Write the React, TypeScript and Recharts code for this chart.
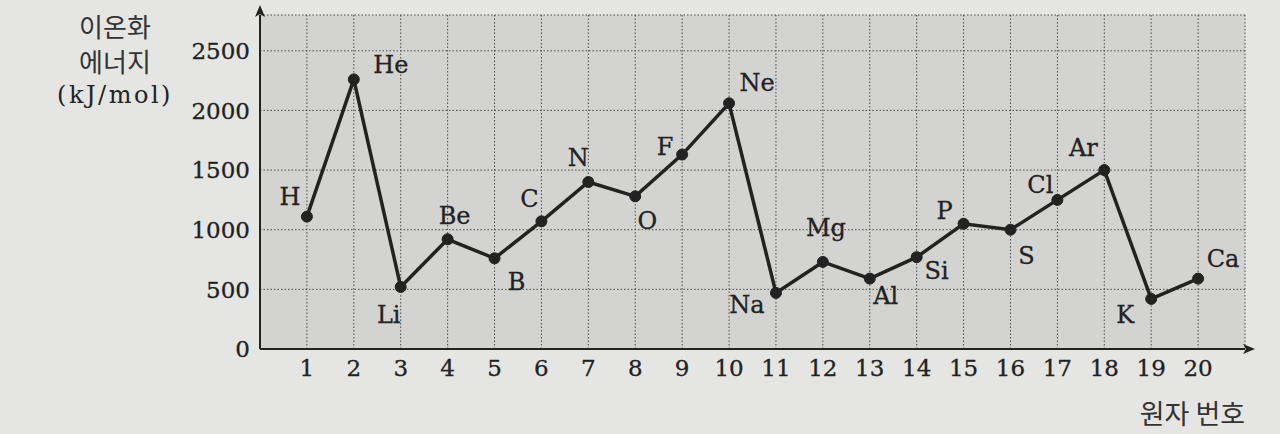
import React from "react";
import { LineChart, Line, XAxis, YAxis, CartesianGrid } from "recharts";

const atomicNumbers = [1, 2, 3, 4, 5, 6, 7, 8, 9, 10, 11, 12, 13, 14, 15, 16, 17, 18, 19, 20];
const symbols = ["H", "He", "Li", "Be", "B", "C", "N", "O", "F", "Ne", "Na", "Mg", "Al", "Si", "P", "S", "Cl", "Ar", "K", "Ca"];
const energies = [1110, 2260, 520, 920, 760, 1070, 1400, 1280, 1630, 2060, 470, 730, 590, 770, 1050, 1000, 1250, 1500, 420, 590];
const xTicks = [1, 2, 3, 4, 5, 6, 7, 8, 9, 10, 11, 12, 13, 14, 15, 16, 17, 18, 19, 20];
const yTicks = [0, 500, 1000, 1500, 2000, 2500];

// label placement relative to each point (style only)
const labelOffsets: Record<string, [number, number]> = {
  H: [-17, -20], He: [37, -14], Li: [-12, 28], Be: [7, -23], B: [22, 24],
  C: [-12, -22], N: [-10, -24], O: [12, 25], F: [-17, -8], Ne: [28, -20],
  Na: [-29, 12], Mg: [3, -34], Al: [16, 17], Si: [20, 14], P: [-19, -13],
  S: [16, 26], Cl: [-17, -15], Ar: [-21, -22], K: [-26, 16], Ca: [25, -20],
};

const data = atomicNumbers.map((n, i) => ({ n, sym: symbols[i], e: energies[i] }));

const SERIF = "'DejaVu Serif', 'Liberation Serif', serif";
const SANS = "'Noto Sans CJK KR', 'Noto Sans', sans-serif";
const INK = "#222222";

const ElementLabel = (props: any) => {
  const { x, y, index } = props;
  const sym = symbols[index];
  const [dx, dy] = labelOffsets[sym] || [0, -20];
  return (
    <text x={x + dx} y={y + dy} textAnchor="middle" dominantBaseline="central"
      fontFamily={SERIF} fontSize={24} fill={INK} stroke={INK} strokeWidth={0.3}>
      {sym}
    </text>
  );
};

export default function App() {
  return (
    <div style={{ position: "absolute", left: 0, top: 0, width: 1280, height: 434, background: "#e5e5e3", overflow: "hidden" }}>
      <svg width={0} height={0} style={{ position: "absolute" }}>
        <defs>
          <marker id="arrowHead" viewBox="0 0 12 10" refX="2" refY="5" markerWidth="12" markerHeight="10" markerUnits="userSpaceOnUse" orient="auto-start-reverse">
            <path d="M0,0 L12,5 L0,10 L3,5 Z" fill={INK} />
          </marker>
        </defs>
      </svg>
      <LineChart width={1280} height={434} data={data} margin={{ top: 15, right: 35, bottom: 45, left: 200 }}>
        <CartesianGrid stroke="#4a4a4a" strokeDasharray="1.5 2" strokeWidth={1} fill="#d3d3d1" fillOpacity={1} />
        <XAxis dataKey="n" type="number" domain={[0, 21]} ticks={xTicks} interval={0}
          tickLine={false} tickSize={0} tickMargin={11} height={40}
          axisLine={{ stroke: INK, strokeWidth: 2, markerEnd: "url(#arrowHead)" } as any}
          tick={{ fontFamily: SERIF, fontSize: 23, fill: INK, stroke: INK, strokeWidth: 0.3 }} />
        <YAxis type="number" domain={[0, 2800]} ticks={yTicks} interval={0} width={60}
          tickLine={false} tickSize={0} tickMargin={10}
          axisLine={{ stroke: INK, strokeWidth: 2, markerStart: "url(#arrowHead)" } as any}
          tick={{ fontFamily: SERIF, fontSize: 23, fill: INK, stroke: INK, strokeWidth: 0.3 }} />
        <Line dataKey="e" type="linear" stroke={INK} strokeWidth={3.5} isAnimationActive={false}
          dot={{ r: 5.5, fill: INK, stroke: INK, strokeWidth: 1 }} activeDot={false}
          label={<ElementLabel />} />
      </LineChart>
      <div style={{ position: "absolute", left: 40, top: 8, width: 150, textAlign: "center", color: "#333", lineHeight: "35px" }}>
        <div style={{ fontFamily: SANS, fontSize: 26, height: 35 }}>이온화</div>
        <div style={{ fontFamily: SANS, fontSize: 26, height: 35 }}>에너지</div>
        <div style={{ fontFamily: SERIF, fontSize: 24, letterSpacing: 2.5, color: INK, height: 35 }}>(kJ/mol)</div>
      </div>
      <div style={{ position: "absolute", left: 1125, top: 399, width: 135, textAlign: "center", fontFamily: SANS, fontSize: 27, color: "#333", lineHeight: "28px" }}>
        원자 번호
      </div>
    </div>
  );
}
